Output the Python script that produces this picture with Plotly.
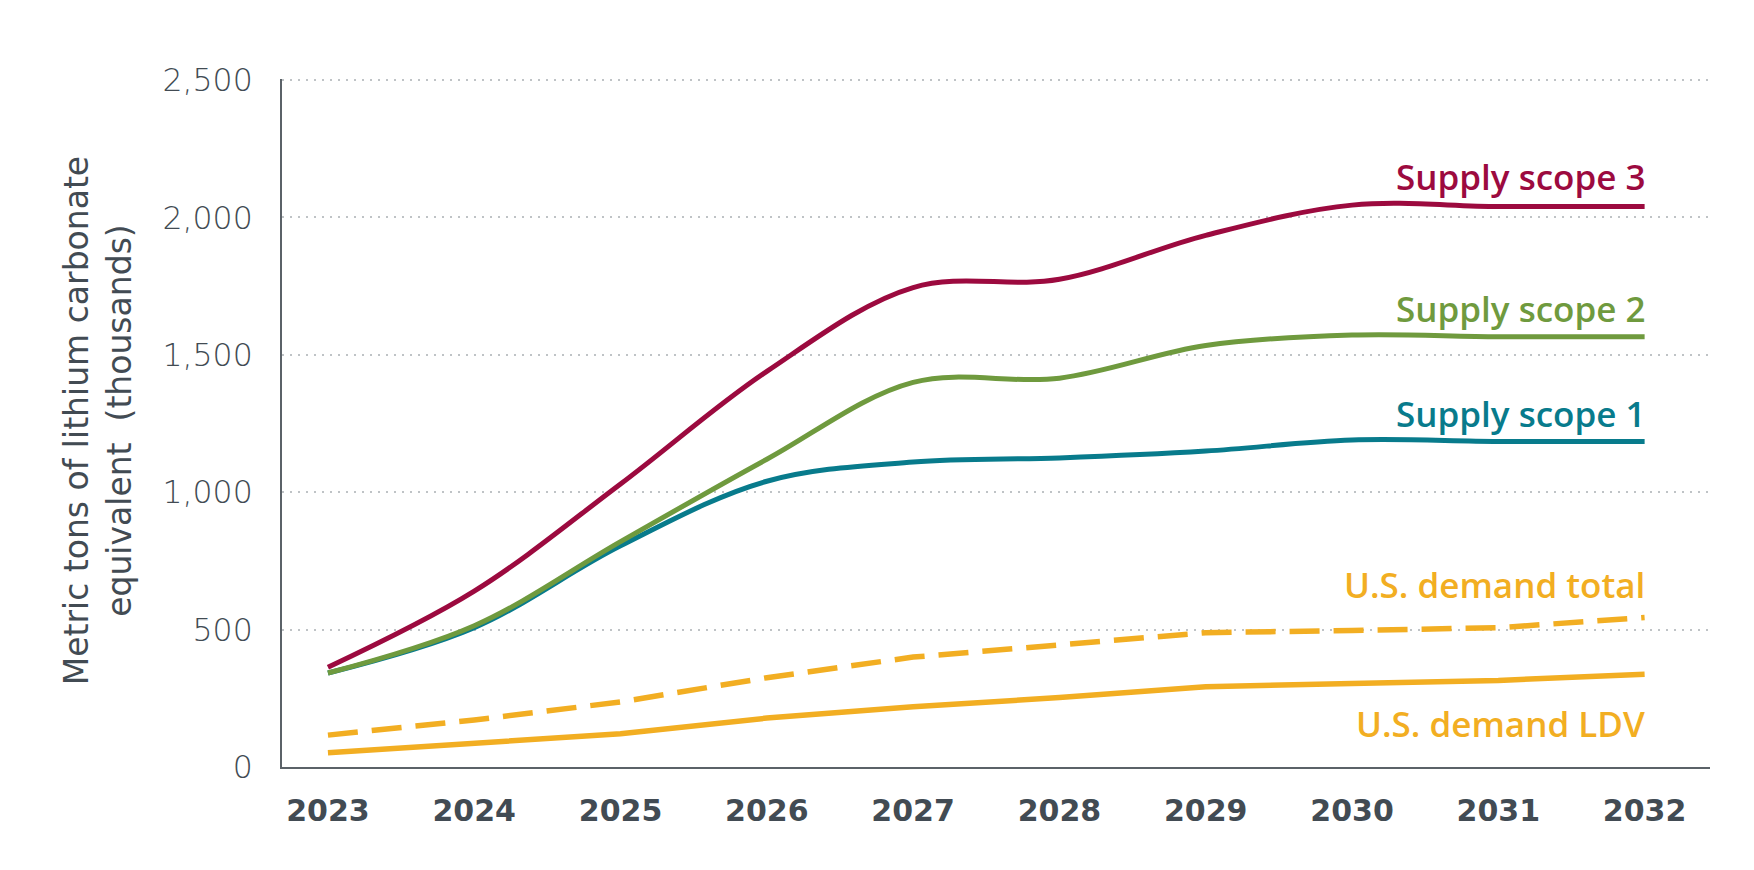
import plotly.graph_objects as go

years = [2023, 2024, 2025, 2026, 2027, 2028, 2029, 2030, 2031, 2032]
supply_scope_3 = [363, 640, 1030, 1440, 1745, 1775, 1935, 2045, 2040, 2040]
supply_scope_2 = [342, 514, 820, 1120, 1400, 1415, 1534, 1572, 1566, 1566]
supply_scope_1 = [342, 507, 805, 1040, 1110, 1125, 1150, 1190, 1185, 1185]
demand_total = [116, 171, 237, 325, 400, 443, 489, 497, 507, 544]
demand_ldv = [52, 89, 121, 178, 219, 253, 292, 304, 315, 338]
y_ticks = [0, 500, 1000, 1500, 2000, 2500]
y_tick_text = ["0", "500", "1,000", "1,500", "2,000", "2,500"]

RED = "#9c0a3f"
GREEN = "#6f9a3e"
TEAL = "#087b8c"
YELLOW = "#f2ae22"
TEXT = "#424b53"
FONT = "DejaVu Sans"
LABEL_FONT = "Open Sans"

fig = go.Figure()
fig.add_trace(go.Scatter(x=years, y=demand_ldv, mode="lines",
                         line=dict(color=YELLOW, width=5.5), hoverinfo="skip"))
fig.add_trace(go.Scatter(x=years, y=demand_total, mode="lines",
                         line=dict(color=YELLOW, width=5.5, dash="30px,14px"), hoverinfo="skip"))
fig.add_trace(go.Scatter(x=years, y=supply_scope_1, mode="lines",
                         line=dict(color=TEAL, width=5, shape="spline", smoothing=1), hoverinfo="skip"))
fig.add_trace(go.Scatter(x=years, y=supply_scope_2, mode="lines",
                         line=dict(color=GREEN, width=5, shape="spline", smoothing=1), hoverinfo="skip"))
fig.add_trace(go.Scatter(x=years, y=supply_scope_3, mode="lines",
                         line=dict(color=RED, width=5, shape="spline", smoothing=1), hoverinfo="skip"))

labels = [
    ("Supply scope 3", 2150, RED),
    ("Supply scope 2", 1670, GREEN),
    ("Supply scope 1", 1288, TEAL),
    ("U.S. demand total", 663, YELLOW),
    ("U.S. demand LDV", 160, YELLOW),
]
for text, yv, col in labels:
    fig.add_annotation(x=years[-1], y=yv, text=text, showarrow=False,
                       xanchor="right", yanchor="middle", xshift=2,
                       font=dict(family=LABEL_FONT, size=35, color=col, weight=600))

fig.add_annotation(xref="paper", yref="paper", x=-0.129, y=0.5036,
                   text="Metric tons of lithium carbonate<br>equivalent  (thousands)",
                   textangle=-90, showarrow=False, xanchor="center", yanchor="middle",
                   font=dict(family=FONT, size=33, color=TEXT))

fig.update_layout(
    width=1754, height=870,
    margin=dict(l=274, r=52, t=71, b=111),
    paper_bgcolor="white", plot_bgcolor="white",
    showlegend=False,
    xaxis=dict(range=[2022.686, 2032.447], tickmode="array", tickvals=years,
               ticktext=[str(y) for y in years],
               showgrid=False, zeroline=False,
               showline=True, linecolor="#5b6268", linewidth=2,
               ticks="", ticklabelstandoff=16,
               tickfont=dict(family=FONT, size=30, color=TEXT, weight=700)),
    yaxis=dict(range=[0, 2504], tickmode="array", tickvals=y_ticks, ticktext=y_tick_text,
               showgrid=True, gridcolor="#bfc3c6", gridwidth=2, griddash="2px,6px",
               zeroline=False, showline=True, linecolor="#5b6268", linewidth=2,
               ticks="", ticklabelstandoff=21,
               tickfont=dict(family=FONT, size=31.5, color=TEXT, weight=200)),
)

fig.write_html("out.html")
